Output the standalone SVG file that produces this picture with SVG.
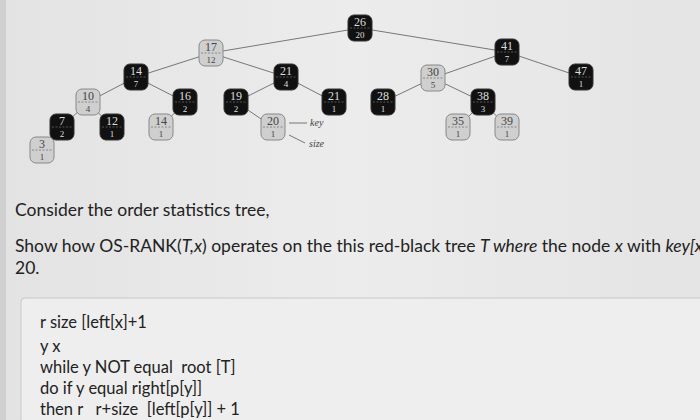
<svg xmlns="http://www.w3.org/2000/svg" width="700" height="420" viewBox="0 0 700 420">
<style>
.b rect{fill:#111;stroke:#333;stroke-width:1}
.r rect{fill:#cfcfcf;stroke:#888;stroke-width:1}
.k{font-family:"Liberation Serif",serif;font-size:12px;text-anchor:middle}
.s{font-family:"Liberation Serif",serif;font-size:9px;text-anchor:middle}
.b text{fill:#ddd}
.r text{fill:#444}
.b line{stroke:#666;stroke-dasharray:2 1.5;stroke-width:.8}
.r line{stroke:#777;stroke-dasharray:2 1.5;stroke-width:.8}
#edges line{stroke:#777;stroke-width:1}
.t{font-family:Lato,"Liberation Sans",sans-serif;font-size:17.5px;fill:#222}
.c{font-family:Lato,"Liberation Sans",sans-serif;font-size:16.5px;fill:#222}
.lab{font-family:"Liberation Serif",serif;font-size:10px;font-style:italic;fill:#444}
</style>
<defs>
<linearGradient id="bg" x1="0" y1="0" x2="1" y2="0"><stop offset="0" stop-color="#e2e3e2"/><stop offset=".5" stop-color="#ececec"/><stop offset="1" stop-color="#e4e4e4"/></linearGradient>
</defs>
<rect width="700" height="420" fill="url(#bg)"/>
<rect x="0" y="0" width="6" height="420" fill="#d0d0d0"/>
<g id="edges">
<line x1="360" y1="28" x2="211" y2="53"/><line x1="360" y1="28" x2="507" y2="52"/>
<line x1="211" y1="53" x2="136" y2="77"/><line x1="211" y1="53" x2="286" y2="77"/>
<line x1="136" y1="77" x2="88" y2="102"/><line x1="136" y1="77" x2="185" y2="102"/>
<line x1="286" y1="77" x2="236" y2="102"/><line x1="286" y1="77" x2="334" y2="102"/>
<line x1="88" y1="102" x2="62" y2="127"/><line x1="88" y1="102" x2="112" y2="127"/>
<line x1="185" y1="102" x2="161" y2="127"/><line x1="236" y1="102" x2="273" y2="127"/>
<line x1="62" y1="127" x2="42" y2="150"/>
<line x1="507" y1="52" x2="433" y2="78"/><line x1="507" y1="52" x2="581" y2="77"/>
<line x1="433" y1="78" x2="383" y2="102"/><line x1="433" y1="78" x2="483" y2="102"/>
<line x1="483" y1="102" x2="458" y2="127"/><line x1="483" y1="102" x2="507" y2="127"/>
<line x1="289" y1="123" x2="307" y2="123"/><line x1="289" y1="135" x2="305" y2="143"/>
</g>
<g id="n26" class="b" transform="translate(360,28)"><rect x="-12" y="-13" width="24" height="26" rx="6"/><line x1="-10" y1="0" x2="10" y2="0"/><text class="k" y="-2">26</text><text class="s" y="10">20</text></g>
<g id="n17" class="r" transform="translate(211,53)"><rect x="-12" y="-13" width="24" height="26" rx="6"/><line x1="-10" y1="0" x2="10" y2="0"/><text class="k" y="-2">17</text><text class="s" y="10">12</text></g>
<g id="n14" class="b" transform="translate(136,77)"><rect x="-12" y="-13" width="24" height="26" rx="6"/><line x1="-10" y1="0" x2="10" y2="0"/><text class="k" y="-2">14</text><text class="s" y="10">7</text></g>
<g id="n21a" class="b" transform="translate(286,77)"><rect x="-12" y="-13" width="24" height="26" rx="6"/><line x1="-10" y1="0" x2="10" y2="0"/><text class="k" y="-2">21</text><text class="s" y="10">4</text></g>
<g id="n10" class="r" transform="translate(88,102)"><rect x="-12" y="-13" width="24" height="26" rx="6"/><line x1="-10" y1="0" x2="10" y2="0"/><text class="k" y="-2">10</text><text class="s" y="10">4</text></g>
<g id="n16" class="b" transform="translate(185,102)"><rect x="-12" y="-13" width="24" height="26" rx="6"/><line x1="-10" y1="0" x2="10" y2="0"/><text class="k" y="-2">16</text><text class="s" y="10">2</text></g>
<g id="n19" class="b" transform="translate(236,102)"><rect x="-12" y="-13" width="24" height="26" rx="6"/><line x1="-10" y1="0" x2="10" y2="0"/><text class="k" y="-2">19</text><text class="s" y="10">2</text></g>
<g id="n21b" class="b" transform="translate(334,102)"><rect x="-12" y="-13" width="24" height="26" rx="6"/><line x1="-10" y1="0" x2="10" y2="0"/><text class="k" y="-2">21</text><text class="s" y="10">1</text></g>
<g id="n7" class="b" transform="translate(62,127)"><rect x="-12" y="-13" width="24" height="26" rx="6"/><line x1="-10" y1="0" x2="10" y2="0"/><text class="k" y="-2">7</text><text class="s" y="10">2</text></g>
<g id="n12" class="b" transform="translate(112,127)"><rect x="-12" y="-13" width="24" height="26" rx="6"/><line x1="-10" y1="0" x2="10" y2="0"/><text class="k" y="-2">12</text><text class="s" y="10">1</text></g>
<g id="n14b" class="r" transform="translate(161,127)"><rect x="-12" y="-13" width="24" height="26" rx="6"/><line x1="-10" y1="0" x2="10" y2="0"/><text class="k" y="-2">14</text><text class="s" y="10">1</text></g>
<g id="n20" class="r" transform="translate(273,127)"><rect x="-12" y="-13" width="24" height="26" rx="6"/><line x1="-10" y1="0" x2="10" y2="0"/><text class="k" y="-2">20</text><text class="s" y="10">1</text></g>
<g id="n3" class="r" transform="translate(42,150)"><rect x="-12" y="-13" width="24" height="26" rx="6"/><line x1="-10" y1="0" x2="10" y2="0"/><text class="k" y="-2">3</text><text class="s" y="10">1</text></g>
<g id="n41" class="b" transform="translate(507,52)"><rect x="-12" y="-13" width="24" height="26" rx="6"/><line x1="-10" y1="0" x2="10" y2="0"/><text class="k" y="-2">41</text><text class="s" y="10">7</text></g>
<g id="n30" class="r" transform="translate(433,78)"><rect x="-12" y="-13" width="24" height="26" rx="6"/><line x1="-10" y1="0" x2="10" y2="0"/><text class="k" y="-2">30</text><text class="s" y="10">5</text></g>
<g id="n47" class="b" transform="translate(581,77)"><rect x="-12" y="-13" width="24" height="26" rx="6"/><line x1="-10" y1="0" x2="10" y2="0"/><text class="k" y="-2">47</text><text class="s" y="10">1</text></g>
<g id="n28" class="b" transform="translate(383,102)"><rect x="-12" y="-13" width="24" height="26" rx="6"/><line x1="-10" y1="0" x2="10" y2="0"/><text class="k" y="-2">28</text><text class="s" y="10">1</text></g>
<g id="n38" class="b" transform="translate(483,102)"><rect x="-12" y="-13" width="24" height="26" rx="6"/><line x1="-10" y1="0" x2="10" y2="0"/><text class="k" y="-2">38</text><text class="s" y="10">3</text></g>
<g id="n35" class="r" transform="translate(458,127)"><rect x="-12" y="-13" width="24" height="26" rx="6"/><line x1="-10" y1="0" x2="10" y2="0"/><text class="k" y="-2">35</text><text class="s" y="10">1</text></g>
<g id="n39" class="r" transform="translate(507,127)"><rect x="-12" y="-13" width="24" height="26" rx="6"/><line x1="-10" y1="0" x2="10" y2="0"/><text class="k" y="-2">39</text><text class="s" y="10">1</text></g>
<text class="lab" x="310" y="126">key</text>
<text class="lab" x="309" y="147">size</text>
<text class="t" x="15" y="216">Consider the order statistics tree,</text>
<text class="t" x="15" y="252">Show how OS-RANK(<tspan font-style="italic">T,x</tspan>) operates on the this red-black tree <tspan font-style="italic">T where</tspan> the node <tspan font-style="italic">x</tspan> with <tspan font-style="italic">key[x</tspan></text>
<text class="t" x="15" y="274">20.</text>
<rect x="21" y="298" width="690" height="140" rx="4" fill="#eeeeee" stroke="#c8c8c8"/>
<text class="c" x="40" y="328">r size [left[x]+1</text>
<text class="c" x="40" y="352">y x</text>
<text class="c" x="40" y="373" xml:space="preserve">while y NOT equal  root [T]</text>
<text class="c" x="40" y="394">do if y equal right[p[y]]</text>
<text class="c" x="40" y="415" xml:space="preserve">then r   r+size  [left[p[y]] + 1</text>
</svg>
